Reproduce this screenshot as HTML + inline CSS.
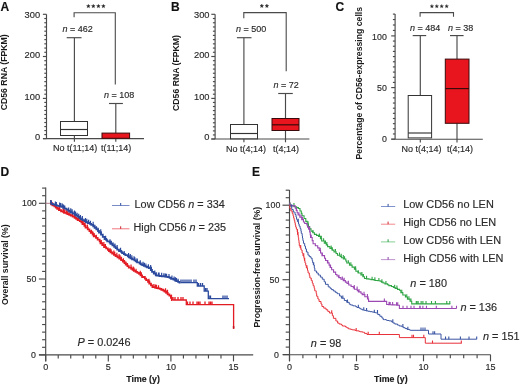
<!DOCTYPE html>
<html><head><meta charset="utf-8"><style>
html,body{margin:0;padding:0;background:#fff;width:520px;height:385px;overflow:hidden}
svg{display:block;will-change:transform}
text{font-family:"Liberation Sans",sans-serif}
</style></head><body>
<svg width="520" height="385" viewBox="0 0 520 385">
<rect width="520" height="385" fill="#fff"/>
<text x="0.50" y="11.00" font-size="12" text-anchor="start" font-weight="bold" fill="#111" stroke="#111" stroke-width="0.15" >A</text>
<text transform="translate(7.00,72.30) rotate(-90)" font-size="8.7" text-anchor="middle" font-weight="bold" fill="#1a1a1a">CD56 RNA (FPKM)</text>
<line x1="46.50" y1="14.30" x2="46.50" y2="138.60" stroke="#4a4a4a" stroke-width="1.15"/>
<line x1="42.90" y1="138.60" x2="46.50" y2="138.60" stroke="#4a4a4a" stroke-width="1.15"/>
<line x1="44.30" y1="134.58" x2="46.50" y2="134.58" stroke="#4a4a4a" stroke-width="1.15"/>
<line x1="44.30" y1="130.56" x2="46.50" y2="130.56" stroke="#4a4a4a" stroke-width="1.15"/>
<line x1="44.30" y1="126.54" x2="46.50" y2="126.54" stroke="#4a4a4a" stroke-width="1.15"/>
<line x1="44.30" y1="122.52" x2="46.50" y2="122.52" stroke="#4a4a4a" stroke-width="1.15"/>
<line x1="44.30" y1="118.50" x2="46.50" y2="118.50" stroke="#4a4a4a" stroke-width="1.15"/>
<line x1="44.30" y1="114.48" x2="46.50" y2="114.48" stroke="#4a4a4a" stroke-width="1.15"/>
<line x1="44.30" y1="110.46" x2="46.50" y2="110.46" stroke="#4a4a4a" stroke-width="1.15"/>
<line x1="44.30" y1="106.44" x2="46.50" y2="106.44" stroke="#4a4a4a" stroke-width="1.15"/>
<line x1="44.30" y1="102.42" x2="46.50" y2="102.42" stroke="#4a4a4a" stroke-width="1.15"/>
<line x1="42.90" y1="98.40" x2="46.50" y2="98.40" stroke="#4a4a4a" stroke-width="1.15"/>
<line x1="44.30" y1="94.21" x2="46.50" y2="94.21" stroke="#4a4a4a" stroke-width="1.15"/>
<line x1="44.30" y1="90.02" x2="46.50" y2="90.02" stroke="#4a4a4a" stroke-width="1.15"/>
<line x1="44.30" y1="85.83" x2="46.50" y2="85.83" stroke="#4a4a4a" stroke-width="1.15"/>
<line x1="44.30" y1="81.64" x2="46.50" y2="81.64" stroke="#4a4a4a" stroke-width="1.15"/>
<line x1="44.30" y1="77.45" x2="46.50" y2="77.45" stroke="#4a4a4a" stroke-width="1.15"/>
<line x1="44.30" y1="73.26" x2="46.50" y2="73.26" stroke="#4a4a4a" stroke-width="1.15"/>
<line x1="44.30" y1="69.07" x2="46.50" y2="69.07" stroke="#4a4a4a" stroke-width="1.15"/>
<line x1="44.30" y1="64.88" x2="46.50" y2="64.88" stroke="#4a4a4a" stroke-width="1.15"/>
<line x1="44.30" y1="60.69" x2="46.50" y2="60.69" stroke="#4a4a4a" stroke-width="1.15"/>
<line x1="42.90" y1="56.50" x2="46.50" y2="56.50" stroke="#4a4a4a" stroke-width="1.15"/>
<line x1="44.30" y1="52.28" x2="46.50" y2="52.28" stroke="#4a4a4a" stroke-width="1.15"/>
<line x1="44.30" y1="48.06" x2="46.50" y2="48.06" stroke="#4a4a4a" stroke-width="1.15"/>
<line x1="44.30" y1="43.84" x2="46.50" y2="43.84" stroke="#4a4a4a" stroke-width="1.15"/>
<line x1="44.30" y1="39.62" x2="46.50" y2="39.62" stroke="#4a4a4a" stroke-width="1.15"/>
<line x1="44.30" y1="35.40" x2="46.50" y2="35.40" stroke="#4a4a4a" stroke-width="1.15"/>
<line x1="44.30" y1="31.18" x2="46.50" y2="31.18" stroke="#4a4a4a" stroke-width="1.15"/>
<line x1="44.30" y1="26.96" x2="46.50" y2="26.96" stroke="#4a4a4a" stroke-width="1.15"/>
<line x1="44.30" y1="22.74" x2="46.50" y2="22.74" stroke="#4a4a4a" stroke-width="1.15"/>
<line x1="44.30" y1="18.52" x2="46.50" y2="18.52" stroke="#4a4a4a" stroke-width="1.15"/>
<line x1="42.90" y1="14.30" x2="46.50" y2="14.30" stroke="#4a4a4a" stroke-width="1.15"/>
<text x="40.10" y="140.20" font-size="9.3" text-anchor="end" font-weight="normal" fill="#2a2a2a" stroke="#2a2a2a" stroke-width="0.15" >0</text>
<text x="40.10" y="100.00" font-size="9.3" text-anchor="end" font-weight="normal" fill="#2a2a2a" stroke="#2a2a2a" stroke-width="0.15" >100</text>
<text x="40.10" y="57.50" font-size="9.3" text-anchor="end" font-weight="normal" fill="#2a2a2a" stroke="#2a2a2a" stroke-width="0.15" >200</text>
<text x="40.10" y="17.50" font-size="9.3" text-anchor="end" font-weight="normal" fill="#2a2a2a" stroke="#2a2a2a" stroke-width="0.15" >300</text>
<line x1="43.00" y1="138.60" x2="144.00" y2="138.60" stroke="#4a4a4a" stroke-width="1.15"/>
<line x1="74.40" y1="138.60" x2="74.40" y2="141.80" stroke="#4a4a4a" stroke-width="1.15"/>
<line x1="115.80" y1="138.60" x2="115.80" y2="141.80" stroke="#4a4a4a" stroke-width="1.15"/>
<line x1="74.40" y1="37.70" x2="74.40" y2="121.40" stroke="#4a4a4a" stroke-width="1.15"/>
<line x1="66.70" y1="37.70" x2="81.50" y2="37.70" stroke="#4a4a4a" stroke-width="1.15"/>
<rect x="60.50" y="121.50" width="27.00" height="14.00" fill="#fff" stroke="#333" stroke-width="1.0"/>
<line x1="74.40" y1="135.50" x2="74.40" y2="138.60" stroke="#4a4a4a" stroke-width="1.15"/>
<line x1="60.50" y1="129.50" x2="87.80" y2="129.50" stroke="#333" stroke-width="1.15"/>
<line x1="115.80" y1="103.50" x2="115.80" y2="133.10" stroke="#4a4a4a" stroke-width="1.15"/>
<line x1="109.00" y1="103.50" x2="122.90" y2="103.50" stroke="#4a4a4a" stroke-width="1.15"/>
<rect x="102.00" y="133.10" width="27.60" height="5.20" fill="#e8141e" stroke="#3a0a0a" stroke-width="1.0"/>
<polyline points="74.1,17.2 74.1,12.8 115.3,12.8 115.3,84.5" fill="none" stroke="#4a4a4a" stroke-width="1.1"/>
<polygon points="88.35,4.30 88.85,5.51 90.16,5.61 89.16,6.46 89.47,7.74 88.35,7.05 87.23,7.74 87.54,6.46 86.54,5.61 87.85,5.51" fill="#222" stroke="#222" stroke-width="0.35"/>
<polygon points="93.30,4.30 93.80,5.51 95.11,5.61 94.11,6.46 94.42,7.74 93.30,7.05 92.18,7.74 92.49,6.46 91.49,5.61 92.80,5.51" fill="#222" stroke="#222" stroke-width="0.35"/>
<polygon points="98.40,4.30 98.90,5.51 100.21,5.61 99.21,6.46 99.52,7.74 98.40,7.05 97.28,7.74 97.59,6.46 96.59,5.61 97.90,5.51" fill="#222" stroke="#222" stroke-width="0.35"/>
<polygon points="103.40,4.30 103.90,5.51 105.21,5.61 104.21,6.46 104.52,7.74 103.40,7.05 102.28,7.74 102.59,6.46 101.59,5.61 102.90,5.51" fill="#222" stroke="#222" stroke-width="0.35"/>
<text x="62.50" y="31.50" font-size="9" text-anchor="start" font-weight="normal" fill="#2a2a2a" stroke="#2a2a2a" stroke-width="0.15" ><tspan font-style="italic">n</tspan> = 462</text>
<text x="104.00" y="98.40" font-size="9" text-anchor="start" font-weight="normal" fill="#2a2a2a" stroke="#2a2a2a" stroke-width="0.15" ><tspan font-style="italic">n</tspan> = 108</text>
<text x="53.00" y="151.20" font-size="9" text-anchor="start" font-weight="normal" fill="#2a2a2a" stroke="#2a2a2a" stroke-width="0.15" >No t(11;14)</text>
<text x="101.00" y="151.20" font-size="9" text-anchor="start" font-weight="normal" fill="#2a2a2a" stroke="#2a2a2a" stroke-width="0.15" >t(11;14)</text>
<text x="171.00" y="11.00" font-size="12" text-anchor="start" font-weight="bold" fill="#111" stroke="#111" stroke-width="0.15" >B</text>
<text transform="translate(179.00,73.00) rotate(-90)" font-size="8.7" text-anchor="middle" font-weight="bold" fill="#1a1a1a">CD56 RNA (FPKM)</text>
<line x1="215.10" y1="14.30" x2="215.10" y2="139.00" stroke="#4a4a4a" stroke-width="1.15"/>
<line x1="211.30" y1="139.00" x2="215.10" y2="139.00" stroke="#4a4a4a" stroke-width="1.15"/>
<line x1="212.90" y1="134.94" x2="215.10" y2="134.94" stroke="#4a4a4a" stroke-width="1.15"/>
<line x1="212.90" y1="130.88" x2="215.10" y2="130.88" stroke="#4a4a4a" stroke-width="1.15"/>
<line x1="212.90" y1="126.82" x2="215.10" y2="126.82" stroke="#4a4a4a" stroke-width="1.15"/>
<line x1="212.90" y1="122.76" x2="215.10" y2="122.76" stroke="#4a4a4a" stroke-width="1.15"/>
<line x1="212.90" y1="118.70" x2="215.10" y2="118.70" stroke="#4a4a4a" stroke-width="1.15"/>
<line x1="212.90" y1="114.64" x2="215.10" y2="114.64" stroke="#4a4a4a" stroke-width="1.15"/>
<line x1="212.90" y1="110.58" x2="215.10" y2="110.58" stroke="#4a4a4a" stroke-width="1.15"/>
<line x1="212.90" y1="106.52" x2="215.10" y2="106.52" stroke="#4a4a4a" stroke-width="1.15"/>
<line x1="212.90" y1="102.46" x2="215.10" y2="102.46" stroke="#4a4a4a" stroke-width="1.15"/>
<line x1="211.30" y1="98.40" x2="215.10" y2="98.40" stroke="#4a4a4a" stroke-width="1.15"/>
<line x1="212.90" y1="94.21" x2="215.10" y2="94.21" stroke="#4a4a4a" stroke-width="1.15"/>
<line x1="212.90" y1="90.02" x2="215.10" y2="90.02" stroke="#4a4a4a" stroke-width="1.15"/>
<line x1="212.90" y1="85.83" x2="215.10" y2="85.83" stroke="#4a4a4a" stroke-width="1.15"/>
<line x1="212.90" y1="81.64" x2="215.10" y2="81.64" stroke="#4a4a4a" stroke-width="1.15"/>
<line x1="212.90" y1="77.45" x2="215.10" y2="77.45" stroke="#4a4a4a" stroke-width="1.15"/>
<line x1="212.90" y1="73.26" x2="215.10" y2="73.26" stroke="#4a4a4a" stroke-width="1.15"/>
<line x1="212.90" y1="69.07" x2="215.10" y2="69.07" stroke="#4a4a4a" stroke-width="1.15"/>
<line x1="212.90" y1="64.88" x2="215.10" y2="64.88" stroke="#4a4a4a" stroke-width="1.15"/>
<line x1="212.90" y1="60.69" x2="215.10" y2="60.69" stroke="#4a4a4a" stroke-width="1.15"/>
<line x1="211.30" y1="56.50" x2="215.10" y2="56.50" stroke="#4a4a4a" stroke-width="1.15"/>
<line x1="212.90" y1="52.28" x2="215.10" y2="52.28" stroke="#4a4a4a" stroke-width="1.15"/>
<line x1="212.90" y1="48.06" x2="215.10" y2="48.06" stroke="#4a4a4a" stroke-width="1.15"/>
<line x1="212.90" y1="43.84" x2="215.10" y2="43.84" stroke="#4a4a4a" stroke-width="1.15"/>
<line x1="212.90" y1="39.62" x2="215.10" y2="39.62" stroke="#4a4a4a" stroke-width="1.15"/>
<line x1="212.90" y1="35.40" x2="215.10" y2="35.40" stroke="#4a4a4a" stroke-width="1.15"/>
<line x1="212.90" y1="31.18" x2="215.10" y2="31.18" stroke="#4a4a4a" stroke-width="1.15"/>
<line x1="212.90" y1="26.96" x2="215.10" y2="26.96" stroke="#4a4a4a" stroke-width="1.15"/>
<line x1="212.90" y1="22.74" x2="215.10" y2="22.74" stroke="#4a4a4a" stroke-width="1.15"/>
<line x1="212.90" y1="18.52" x2="215.10" y2="18.52" stroke="#4a4a4a" stroke-width="1.15"/>
<line x1="211.30" y1="14.30" x2="215.10" y2="14.30" stroke="#4a4a4a" stroke-width="1.15"/>
<text x="209.50" y="140.30" font-size="9.3" text-anchor="end" font-weight="normal" fill="#2a2a2a" stroke="#2a2a2a" stroke-width="0.15" >0</text>
<text x="209.50" y="100.00" font-size="9.3" text-anchor="end" font-weight="normal" fill="#2a2a2a" stroke="#2a2a2a" stroke-width="0.15" >100</text>
<text x="209.50" y="57.50" font-size="9.3" text-anchor="end" font-weight="normal" fill="#2a2a2a" stroke="#2a2a2a" stroke-width="0.15" >200</text>
<text x="209.50" y="17.60" font-size="9.3" text-anchor="end" font-weight="normal" fill="#2a2a2a" stroke="#2a2a2a" stroke-width="0.15" >300</text>
<line x1="211.30" y1="139.00" x2="309.40" y2="139.00" stroke="#4a4a4a" stroke-width="1.15"/>
<line x1="243.90" y1="139.00" x2="243.90" y2="142.30" stroke="#4a4a4a" stroke-width="1.15"/>
<line x1="285.50" y1="139.00" x2="285.50" y2="142.30" stroke="#4a4a4a" stroke-width="1.15"/>
<line x1="243.90" y1="37.70" x2="243.90" y2="124.50" stroke="#4a4a4a" stroke-width="1.15"/>
<line x1="236.90" y1="37.70" x2="251.50" y2="37.70" stroke="#4a4a4a" stroke-width="1.15"/>
<rect x="230.50" y="124.50" width="27.00" height="14.30" fill="#fff" stroke="#333" stroke-width="1.0"/>
<line x1="230.50" y1="133.50" x2="257.50" y2="133.50" stroke="#333" stroke-width="1.15"/>
<line x1="285.50" y1="93.50" x2="285.50" y2="118.50" stroke="#4a4a4a" stroke-width="1.15"/>
<line x1="278.20" y1="93.50" x2="292.80" y2="93.50" stroke="#4a4a4a" stroke-width="1.15"/>
<line x1="285.50" y1="130.30" x2="285.50" y2="139.00" stroke="#4a4a4a" stroke-width="1.15"/>
<rect x="272.00" y="118.50" width="27.00" height="12.00" fill="#e8141e" stroke="#3a0a0a" stroke-width="1.0"/>
<line x1="272.00" y1="124.80" x2="299.00" y2="124.80" stroke="#3a0a0a" stroke-width="1.2"/>
<polyline points="243.8,18.2 243.8,12.6 286.2,12.6 286.2,71.2" fill="none" stroke="#4a4a4a" stroke-width="1.1"/>
<polygon points="261.80,4.10 262.30,5.31 263.61,5.41 262.61,6.26 262.92,7.54 261.80,6.86 260.68,7.54 260.99,6.26 259.99,5.41 261.30,5.31" fill="#222" stroke="#222" stroke-width="0.35"/>
<polygon points="266.90,4.10 267.40,5.31 268.71,5.41 267.71,6.26 268.02,7.54 266.90,6.86 265.78,7.54 266.09,6.26 265.09,5.41 266.40,5.31" fill="#222" stroke="#222" stroke-width="0.35"/>
<text x="236.00" y="31.80" font-size="9" text-anchor="start" font-weight="normal" fill="#2a2a2a" stroke="#2a2a2a" stroke-width="0.15" ><tspan font-style="italic">n</tspan> = 500</text>
<text x="273.40" y="88.00" font-size="9" text-anchor="start" font-weight="normal" fill="#2a2a2a" stroke="#2a2a2a" stroke-width="0.15" ><tspan font-style="italic">n</tspan> = 72</text>
<text x="226.00" y="152.00" font-size="9" text-anchor="start" font-weight="normal" fill="#2a2a2a" stroke="#2a2a2a" stroke-width="0.15" >No t(4;14)</text>
<text x="273.00" y="152.00" font-size="9" text-anchor="start" font-weight="normal" fill="#2a2a2a" stroke="#2a2a2a" stroke-width="0.15" >t(4;14)</text>
<text x="335.50" y="11.00" font-size="12" text-anchor="start" font-weight="bold" fill="#111" stroke="#111" stroke-width="0.15" >C</text>
<text transform="translate(362.00,83.20) rotate(-90)" font-size="8.7" text-anchor="middle" font-weight="bold" fill="#1a1a1a">Percentage of CD56-expressing cells</text>
<line x1="395.10" y1="14.10" x2="395.10" y2="139.10" stroke="#4a4a4a" stroke-width="1.15"/>
<line x1="391.20" y1="139.10" x2="395.10" y2="139.10" stroke="#4a4a4a" stroke-width="1.15"/>
<line x1="392.90" y1="133.95" x2="395.10" y2="133.95" stroke="#4a4a4a" stroke-width="1.15"/>
<line x1="392.90" y1="128.80" x2="395.10" y2="128.80" stroke="#4a4a4a" stroke-width="1.15"/>
<line x1="392.90" y1="123.65" x2="395.10" y2="123.65" stroke="#4a4a4a" stroke-width="1.15"/>
<line x1="392.90" y1="118.50" x2="395.10" y2="118.50" stroke="#4a4a4a" stroke-width="1.15"/>
<line x1="392.90" y1="113.35" x2="395.10" y2="113.35" stroke="#4a4a4a" stroke-width="1.15"/>
<line x1="392.90" y1="108.20" x2="395.10" y2="108.20" stroke="#4a4a4a" stroke-width="1.15"/>
<line x1="392.90" y1="103.05" x2="395.10" y2="103.05" stroke="#4a4a4a" stroke-width="1.15"/>
<line x1="392.90" y1="97.90" x2="395.10" y2="97.90" stroke="#4a4a4a" stroke-width="1.15"/>
<line x1="392.90" y1="92.75" x2="395.10" y2="92.75" stroke="#4a4a4a" stroke-width="1.15"/>
<line x1="391.20" y1="87.60" x2="395.10" y2="87.60" stroke="#4a4a4a" stroke-width="1.15"/>
<line x1="392.90" y1="82.43" x2="395.10" y2="82.43" stroke="#4a4a4a" stroke-width="1.15"/>
<line x1="392.90" y1="77.26" x2="395.10" y2="77.26" stroke="#4a4a4a" stroke-width="1.15"/>
<line x1="392.90" y1="72.09" x2="395.10" y2="72.09" stroke="#4a4a4a" stroke-width="1.15"/>
<line x1="392.90" y1="66.92" x2="395.10" y2="66.92" stroke="#4a4a4a" stroke-width="1.15"/>
<line x1="392.90" y1="61.75" x2="395.10" y2="61.75" stroke="#4a4a4a" stroke-width="1.15"/>
<line x1="392.90" y1="56.58" x2="395.10" y2="56.58" stroke="#4a4a4a" stroke-width="1.15"/>
<line x1="392.90" y1="51.41" x2="395.10" y2="51.41" stroke="#4a4a4a" stroke-width="1.15"/>
<line x1="392.90" y1="46.24" x2="395.10" y2="46.24" stroke="#4a4a4a" stroke-width="1.15"/>
<line x1="392.90" y1="41.07" x2="395.10" y2="41.07" stroke="#4a4a4a" stroke-width="1.15"/>
<line x1="391.20" y1="35.90" x2="395.10" y2="35.90" stroke="#4a4a4a" stroke-width="1.15"/>
<line x1="392.90" y1="30.45" x2="395.10" y2="30.45" stroke="#4a4a4a" stroke-width="1.15"/>
<line x1="392.90" y1="25.00" x2="395.10" y2="25.00" stroke="#4a4a4a" stroke-width="1.15"/>
<line x1="392.90" y1="19.55" x2="395.10" y2="19.55" stroke="#4a4a4a" stroke-width="1.15"/>
<line x1="392.90" y1="14.10" x2="395.10" y2="14.10" stroke="#4a4a4a" stroke-width="1.15"/>
<text x="386.80" y="142.30" font-size="8.8" text-anchor="end" font-weight="normal" fill="#2a2a2a" stroke="#2a2a2a" stroke-width="0.15" >0</text>
<text x="386.80" y="90.90" font-size="8.8" text-anchor="end" font-weight="normal" fill="#2a2a2a" stroke="#2a2a2a" stroke-width="0.15" >50</text>
<text x="386.80" y="39.50" font-size="8.8" text-anchor="end" font-weight="normal" fill="#2a2a2a" stroke="#2a2a2a" stroke-width="0.15" >100</text>
<line x1="391.30" y1="139.20" x2="482.80" y2="139.20" stroke="#4a4a4a" stroke-width="1.15"/>
<line x1="420.30" y1="139.20" x2="420.30" y2="142.50" stroke="#4a4a4a" stroke-width="1.15"/>
<line x1="457.00" y1="139.20" x2="457.00" y2="142.50" stroke="#4a4a4a" stroke-width="1.15"/>
<line x1="420.30" y1="35.60" x2="420.30" y2="95.50" stroke="#4a4a4a" stroke-width="1.15"/>
<line x1="412.70" y1="35.60" x2="426.20" y2="35.60" stroke="#4a4a4a" stroke-width="1.15"/>
<rect x="408.20" y="95.50" width="23.40" height="42.40" fill="#fff" stroke="#333" stroke-width="1.0"/>
<line x1="408.20" y1="133.00" x2="431.60" y2="133.00" stroke="#333" stroke-width="1.15"/>
<line x1="457.00" y1="35.60" x2="457.00" y2="59.10" stroke="#4a4a4a" stroke-width="1.15"/>
<line x1="450.00" y1="35.60" x2="463.60" y2="35.60" stroke="#4a4a4a" stroke-width="1.15"/>
<line x1="457.00" y1="123.30" x2="457.00" y2="139.20" stroke="#4a4a4a" stroke-width="1.15"/>
<rect x="445.30" y="59.10" width="23.70" height="64.20" fill="#e8141e" stroke="#3a0a0a" stroke-width="1.0"/>
<line x1="445.30" y1="88.60" x2="469.00" y2="88.60" stroke="#3a0a0a" stroke-width="1.15"/>
<polyline points="420.1,16.8 420.1,12.6 453.5,12.6 453.5,16.8" fill="none" stroke="#4a4a4a" stroke-width="1.1"/>
<polygon points="431.90,4.50 432.38,5.64 433.61,5.74 432.67,6.55 432.96,7.76 431.90,7.11 430.84,7.76 431.13,6.55 430.19,5.74 431.42,5.64" fill="#222" stroke="#222" stroke-width="0.35"/>
<polygon points="436.80,4.50 437.28,5.64 438.51,5.74 437.57,6.55 437.86,7.76 436.80,7.11 435.74,7.76 436.03,6.55 435.09,5.74 436.32,5.64" fill="#222" stroke="#222" stroke-width="0.35"/>
<polygon points="441.70,4.50 442.18,5.64 443.41,5.74 442.47,6.55 442.76,7.76 441.70,7.11 440.64,7.76 440.93,6.55 439.99,5.74 441.22,5.64" fill="#222" stroke="#222" stroke-width="0.35"/>
<polygon points="446.70,4.50 447.18,5.64 448.41,5.74 447.47,6.55 447.76,7.76 446.70,7.11 445.64,7.76 445.93,6.55 444.99,5.74 446.22,5.64" fill="#222" stroke="#222" stroke-width="0.35"/>
<text x="410.00" y="31.40" font-size="9" text-anchor="start" font-weight="normal" fill="#2a2a2a" stroke="#2a2a2a" stroke-width="0.15" ><tspan font-style="italic">n</tspan> = 484</text>
<text x="448.00" y="31.40" font-size="9" text-anchor="start" font-weight="normal" fill="#2a2a2a" stroke="#2a2a2a" stroke-width="0.15" ><tspan font-style="italic">n</tspan> = 38</text>
<text x="401.50" y="152.00" font-size="9" text-anchor="start" font-weight="normal" fill="#2a2a2a" stroke="#2a2a2a" stroke-width="0.15" >No t(4;14)</text>
<text x="447.00" y="152.00" font-size="9" text-anchor="start" font-weight="normal" fill="#2a2a2a" stroke="#2a2a2a" stroke-width="0.15" >t(4;14)</text>
<text x="0.50" y="176.00" font-size="12" text-anchor="start" font-weight="bold" fill="#111" stroke="#111" stroke-width="0.15" >D</text>
<text transform="translate(7.60,264.70) rotate(-90)" font-size="8.7" text-anchor="middle" font-weight="bold" fill="#1a1a1a">Overall survival (%)</text>
<line x1="45.70" y1="187.60" x2="45.70" y2="361.30" stroke="#4a4a4a" stroke-width="1.15"/>
<line x1="38.90" y1="354.90" x2="45.70" y2="354.90" stroke="#4a4a4a" stroke-width="1.15"/>
<line x1="42.10" y1="347.31" x2="45.70" y2="347.31" stroke="#4a4a4a" stroke-width="1.15"/>
<line x1="42.10" y1="339.72" x2="45.70" y2="339.72" stroke="#4a4a4a" stroke-width="1.15"/>
<line x1="42.10" y1="332.13" x2="45.70" y2="332.13" stroke="#4a4a4a" stroke-width="1.15"/>
<line x1="42.10" y1="324.54" x2="45.70" y2="324.54" stroke="#4a4a4a" stroke-width="1.15"/>
<line x1="42.10" y1="316.95" x2="45.70" y2="316.95" stroke="#4a4a4a" stroke-width="1.15"/>
<line x1="42.10" y1="309.36" x2="45.70" y2="309.36" stroke="#4a4a4a" stroke-width="1.15"/>
<line x1="42.10" y1="301.77" x2="45.70" y2="301.77" stroke="#4a4a4a" stroke-width="1.15"/>
<line x1="42.10" y1="294.18" x2="45.70" y2="294.18" stroke="#4a4a4a" stroke-width="1.15"/>
<line x1="42.10" y1="286.59" x2="45.70" y2="286.59" stroke="#4a4a4a" stroke-width="1.15"/>
<line x1="38.90" y1="279.00" x2="45.70" y2="279.00" stroke="#4a4a4a" stroke-width="1.15"/>
<line x1="42.10" y1="271.43" x2="45.70" y2="271.43" stroke="#4a4a4a" stroke-width="1.15"/>
<line x1="42.10" y1="263.86" x2="45.70" y2="263.86" stroke="#4a4a4a" stroke-width="1.15"/>
<line x1="42.10" y1="256.29" x2="45.70" y2="256.29" stroke="#4a4a4a" stroke-width="1.15"/>
<line x1="42.10" y1="248.72" x2="45.70" y2="248.72" stroke="#4a4a4a" stroke-width="1.15"/>
<line x1="42.10" y1="241.15" x2="45.70" y2="241.15" stroke="#4a4a4a" stroke-width="1.15"/>
<line x1="42.10" y1="233.58" x2="45.70" y2="233.58" stroke="#4a4a4a" stroke-width="1.15"/>
<line x1="42.10" y1="226.01" x2="45.70" y2="226.01" stroke="#4a4a4a" stroke-width="1.15"/>
<line x1="42.10" y1="218.44" x2="45.70" y2="218.44" stroke="#4a4a4a" stroke-width="1.15"/>
<line x1="42.10" y1="210.87" x2="45.70" y2="210.87" stroke="#4a4a4a" stroke-width="1.15"/>
<line x1="38.90" y1="203.30" x2="45.70" y2="203.30" stroke="#4a4a4a" stroke-width="1.15"/>
<line x1="42.10" y1="195.70" x2="45.70" y2="195.70" stroke="#4a4a4a" stroke-width="1.15"/>
<line x1="42.10" y1="188.10" x2="45.70" y2="188.10" stroke="#4a4a4a" stroke-width="1.15"/>
<text x="36.00" y="358.10" font-size="8.8" text-anchor="end" font-weight="normal" fill="#2a2a2a" stroke="#2a2a2a" stroke-width="0.15" >0</text>
<text x="36.30" y="282.00" font-size="8.8" text-anchor="end" font-weight="normal" fill="#2a2a2a" stroke="#2a2a2a" stroke-width="0.15" >50</text>
<text x="36.70" y="206.30" font-size="8.8" text-anchor="end" font-weight="normal" fill="#2a2a2a" stroke="#2a2a2a" stroke-width="0.15" >100</text>
<line x1="39.00" y1="354.90" x2="253.20" y2="354.90" stroke="#4a4a4a" stroke-width="1.15"/>
<line x1="45.70" y1="354.90" x2="45.70" y2="361.40" stroke="#4a4a4a" stroke-width="1.15"/>
<line x1="58.22" y1="354.90" x2="58.22" y2="358.50" stroke="#4a4a4a" stroke-width="1.15"/>
<line x1="70.74" y1="354.90" x2="70.74" y2="358.50" stroke="#4a4a4a" stroke-width="1.15"/>
<line x1="83.26" y1="354.90" x2="83.26" y2="358.50" stroke="#4a4a4a" stroke-width="1.15"/>
<line x1="95.78" y1="354.90" x2="95.78" y2="358.50" stroke="#4a4a4a" stroke-width="1.15"/>
<line x1="108.30" y1="354.90" x2="108.30" y2="361.40" stroke="#4a4a4a" stroke-width="1.15"/>
<line x1="120.82" y1="354.90" x2="120.82" y2="358.50" stroke="#4a4a4a" stroke-width="1.15"/>
<line x1="133.34" y1="354.90" x2="133.34" y2="358.50" stroke="#4a4a4a" stroke-width="1.15"/>
<line x1="145.86" y1="354.90" x2="145.86" y2="358.50" stroke="#4a4a4a" stroke-width="1.15"/>
<line x1="158.38" y1="354.90" x2="158.38" y2="358.50" stroke="#4a4a4a" stroke-width="1.15"/>
<line x1="170.90" y1="354.90" x2="170.90" y2="361.40" stroke="#4a4a4a" stroke-width="1.15"/>
<line x1="183.42" y1="354.90" x2="183.42" y2="358.50" stroke="#4a4a4a" stroke-width="1.15"/>
<line x1="195.94" y1="354.90" x2="195.94" y2="358.50" stroke="#4a4a4a" stroke-width="1.15"/>
<line x1="208.46" y1="354.90" x2="208.46" y2="358.50" stroke="#4a4a4a" stroke-width="1.15"/>
<line x1="220.98" y1="354.90" x2="220.98" y2="358.50" stroke="#4a4a4a" stroke-width="1.15"/>
<line x1="233.50" y1="354.90" x2="233.50" y2="361.40" stroke="#4a4a4a" stroke-width="1.15"/>
<text x="45.70" y="370.20" font-size="9.0" text-anchor="middle" font-weight="normal" fill="#2a2a2a" stroke="#2a2a2a" stroke-width="0.15" >0</text>
<text x="108.30" y="370.20" font-size="9.0" text-anchor="middle" font-weight="normal" fill="#2a2a2a" stroke="#2a2a2a" stroke-width="0.15" >5</text>
<text x="170.90" y="370.20" font-size="9.0" text-anchor="middle" font-weight="normal" fill="#2a2a2a" stroke="#2a2a2a" stroke-width="0.15" >10</text>
<text x="233.50" y="370.20" font-size="9.0" text-anchor="middle" font-weight="normal" fill="#2a2a2a" stroke="#2a2a2a" stroke-width="0.15" >15</text>
<text x="143.10" y="382.30" font-size="8.8" text-anchor="middle" font-weight="bold" fill="#1a1a1a" stroke="#1a1a1a" stroke-width="0.15" >Time (y)</text>
<text x="77.50" y="345.60" font-size="10.9" text-anchor="start" font-weight="normal" fill="#2a2a2a" stroke="#2a2a2a" stroke-width="0.15" ><tspan font-style="italic">P</tspan> = 0.0246</text>
<line x1="112.00" y1="205.50" x2="129.50" y2="205.50" stroke="#6a7fc0" stroke-width="0.9"/>
<line x1="120.70" y1="203.00" x2="120.70" y2="205.50" stroke="#2b4a9e" stroke-width="1.0"/>
<text x="134.60" y="208.40" font-size="10.85" text-anchor="start" font-weight="normal" fill="#2a2a2a" stroke="#2a2a2a" stroke-width="0.15" >Low CD56 <tspan font-style="italic">n</tspan> = 334</text>
<line x1="112.00" y1="228.80" x2="129.50" y2="228.80" stroke="#ee6a70" stroke-width="0.9"/>
<line x1="120.70" y1="226.30" x2="120.70" y2="228.80" stroke="#c8202a" stroke-width="1.0"/>
<text x="133.50" y="230.90" font-size="10.85" text-anchor="start" font-weight="normal" fill="#2a2a2a" stroke="#2a2a2a" stroke-width="0.15" >High CD56 <tspan font-style="italic">n</tspan> = 235</text>
<text x="252.00" y="176.00" font-size="12" text-anchor="start" font-weight="bold" fill="#111" stroke="#111" stroke-width="0.15" >E</text>
<text transform="translate(260.00,267.20) rotate(-90)" font-size="8.7" text-anchor="middle" font-weight="bold" fill="#1a1a1a">Progression-free survival (%)</text>
<line x1="289.50" y1="190.00" x2="289.50" y2="361.30" stroke="#4a4a4a" stroke-width="1.15"/>
<line x1="282.50" y1="354.60" x2="289.50" y2="354.60" stroke="#4a4a4a" stroke-width="1.15"/>
<line x1="285.70" y1="347.11" x2="289.50" y2="347.11" stroke="#4a4a4a" stroke-width="1.15"/>
<line x1="285.70" y1="339.62" x2="289.50" y2="339.62" stroke="#4a4a4a" stroke-width="1.15"/>
<line x1="285.70" y1="332.13" x2="289.50" y2="332.13" stroke="#4a4a4a" stroke-width="1.15"/>
<line x1="285.70" y1="324.64" x2="289.50" y2="324.64" stroke="#4a4a4a" stroke-width="1.15"/>
<line x1="285.70" y1="317.15" x2="289.50" y2="317.15" stroke="#4a4a4a" stroke-width="1.15"/>
<line x1="285.70" y1="309.66" x2="289.50" y2="309.66" stroke="#4a4a4a" stroke-width="1.15"/>
<line x1="285.70" y1="302.17" x2="289.50" y2="302.17" stroke="#4a4a4a" stroke-width="1.15"/>
<line x1="285.70" y1="294.68" x2="289.50" y2="294.68" stroke="#4a4a4a" stroke-width="1.15"/>
<line x1="285.70" y1="287.19" x2="289.50" y2="287.19" stroke="#4a4a4a" stroke-width="1.15"/>
<line x1="282.50" y1="279.70" x2="289.50" y2="279.70" stroke="#4a4a4a" stroke-width="1.15"/>
<line x1="285.70" y1="272.25" x2="289.50" y2="272.25" stroke="#4a4a4a" stroke-width="1.15"/>
<line x1="285.70" y1="264.80" x2="289.50" y2="264.80" stroke="#4a4a4a" stroke-width="1.15"/>
<line x1="285.70" y1="257.35" x2="289.50" y2="257.35" stroke="#4a4a4a" stroke-width="1.15"/>
<line x1="285.70" y1="249.90" x2="289.50" y2="249.90" stroke="#4a4a4a" stroke-width="1.15"/>
<line x1="285.70" y1="242.45" x2="289.50" y2="242.45" stroke="#4a4a4a" stroke-width="1.15"/>
<line x1="285.70" y1="235.00" x2="289.50" y2="235.00" stroke="#4a4a4a" stroke-width="1.15"/>
<line x1="285.70" y1="227.55" x2="289.50" y2="227.55" stroke="#4a4a4a" stroke-width="1.15"/>
<line x1="285.70" y1="220.10" x2="289.50" y2="220.10" stroke="#4a4a4a" stroke-width="1.15"/>
<line x1="285.70" y1="212.65" x2="289.50" y2="212.65" stroke="#4a4a4a" stroke-width="1.15"/>
<line x1="282.50" y1="205.20" x2="289.50" y2="205.20" stroke="#4a4a4a" stroke-width="1.15"/>
<line x1="285.70" y1="197.70" x2="289.50" y2="197.70" stroke="#4a4a4a" stroke-width="1.15"/>
<line x1="285.70" y1="190.20" x2="289.50" y2="190.20" stroke="#4a4a4a" stroke-width="1.15"/>
<text x="278.80" y="357.80" font-size="8.8" text-anchor="end" font-weight="normal" fill="#2a2a2a" stroke="#2a2a2a" stroke-width="0.15" >0</text>
<text x="279.30" y="283.30" font-size="8.8" text-anchor="end" font-weight="normal" fill="#2a2a2a" stroke="#2a2a2a" stroke-width="0.15" >50</text>
<text x="280.30" y="207.60" font-size="8.8" text-anchor="end" font-weight="normal" fill="#2a2a2a" stroke="#2a2a2a" stroke-width="0.15" >100</text>
<line x1="283.00" y1="354.70" x2="490.60" y2="354.70" stroke="#4a4a4a" stroke-width="1.15"/>
<line x1="289.50" y1="354.70" x2="289.50" y2="361.30" stroke="#4a4a4a" stroke-width="1.15"/>
<line x1="302.90" y1="354.70" x2="302.90" y2="358.20" stroke="#4a4a4a" stroke-width="1.15"/>
<line x1="316.30" y1="354.70" x2="316.30" y2="358.20" stroke="#4a4a4a" stroke-width="1.15"/>
<line x1="329.70" y1="354.70" x2="329.70" y2="358.20" stroke="#4a4a4a" stroke-width="1.15"/>
<line x1="343.10" y1="354.70" x2="343.10" y2="358.20" stroke="#4a4a4a" stroke-width="1.15"/>
<line x1="356.50" y1="354.70" x2="356.50" y2="361.30" stroke="#4a4a4a" stroke-width="1.15"/>
<line x1="369.90" y1="354.70" x2="369.90" y2="358.20" stroke="#4a4a4a" stroke-width="1.15"/>
<line x1="383.30" y1="354.70" x2="383.30" y2="358.20" stroke="#4a4a4a" stroke-width="1.15"/>
<line x1="396.70" y1="354.70" x2="396.70" y2="358.20" stroke="#4a4a4a" stroke-width="1.15"/>
<line x1="410.10" y1="354.70" x2="410.10" y2="358.20" stroke="#4a4a4a" stroke-width="1.15"/>
<line x1="423.50" y1="354.70" x2="423.50" y2="361.30" stroke="#4a4a4a" stroke-width="1.15"/>
<line x1="436.90" y1="354.70" x2="436.90" y2="358.20" stroke="#4a4a4a" stroke-width="1.15"/>
<line x1="450.30" y1="354.70" x2="450.30" y2="358.20" stroke="#4a4a4a" stroke-width="1.15"/>
<line x1="463.70" y1="354.70" x2="463.70" y2="358.20" stroke="#4a4a4a" stroke-width="1.15"/>
<line x1="477.10" y1="354.70" x2="477.10" y2="358.20" stroke="#4a4a4a" stroke-width="1.15"/>
<line x1="490.50" y1="354.70" x2="490.50" y2="361.30" stroke="#4a4a4a" stroke-width="1.15"/>
<text x="289.50" y="370.20" font-size="9.0" text-anchor="middle" font-weight="normal" fill="#2a2a2a" stroke="#2a2a2a" stroke-width="0.15" >0</text>
<text x="356.50" y="370.20" font-size="9.0" text-anchor="middle" font-weight="normal" fill="#2a2a2a" stroke="#2a2a2a" stroke-width="0.15" >5</text>
<text x="423.50" y="370.20" font-size="9.0" text-anchor="middle" font-weight="normal" fill="#2a2a2a" stroke="#2a2a2a" stroke-width="0.15" >10</text>
<text x="490.50" y="370.20" font-size="9.0" text-anchor="middle" font-weight="normal" fill="#2a2a2a" stroke="#2a2a2a" stroke-width="0.15" >15</text>
<text x="390.80" y="382.30" font-size="8.8" text-anchor="middle" font-weight="bold" fill="#1a1a1a" stroke="#1a1a1a" stroke-width="0.15" >Time (y)</text>
<line x1="381.00" y1="206.50" x2="395.20" y2="206.50" stroke="#7088c8" stroke-width="0.9"/>
<line x1="388.10" y1="203.90" x2="388.10" y2="206.50" stroke="#34509e" stroke-width="1.0"/>
<text x="403.20" y="208.40" font-size="10.95" text-anchor="start" font-weight="normal" fill="#2a2a2a" stroke="#2a2a2a" stroke-width="0.15" >Low CD56 no LEN</text>
<line x1="381.00" y1="224.20" x2="395.20" y2="224.20" stroke="#f07a80" stroke-width="0.9"/>
<line x1="388.10" y1="221.60" x2="388.10" y2="224.20" stroke="#d02a30" stroke-width="1.0"/>
<text x="403.20" y="226.10" font-size="10.95" text-anchor="start" font-weight="normal" fill="#2a2a2a" stroke="#2a2a2a" stroke-width="0.15" >High CD56 no LEN</text>
<line x1="381.00" y1="241.90" x2="395.20" y2="241.90" stroke="#78c888" stroke-width="0.9"/>
<line x1="388.10" y1="239.30" x2="388.10" y2="241.90" stroke="#2a9a40" stroke-width="1.0"/>
<text x="403.20" y="243.80" font-size="10.95" text-anchor="start" font-weight="normal" fill="#2a2a2a" stroke="#2a2a2a" stroke-width="0.15" >Low CD56 with LEN</text>
<line x1="381.00" y1="259.60" x2="395.20" y2="259.60" stroke="#b888cc" stroke-width="0.9"/>
<line x1="388.10" y1="257.00" x2="388.10" y2="259.60" stroke="#8a40a8" stroke-width="1.0"/>
<text x="403.20" y="261.50" font-size="10.95" text-anchor="start" font-weight="normal" fill="#2a2a2a" stroke="#2a2a2a" stroke-width="0.15" >High CD56 with LEN</text>
<text x="410.30" y="287.40" font-size="10.9" text-anchor="start" font-weight="normal" fill="#2a2a2a" stroke="#2a2a2a" stroke-width="0.15" ><tspan font-style="italic">n</tspan> = 180</text>
<text x="460.40" y="310.50" font-size="10.9" text-anchor="start" font-weight="normal" fill="#2a2a2a" stroke="#2a2a2a" stroke-width="0.15" ><tspan font-style="italic">n</tspan> = 136</text>
<text x="483.00" y="339.80" font-size="10.9" text-anchor="start" font-weight="normal" fill="#2a2a2a" stroke="#2a2a2a" stroke-width="0.15" ><tspan font-style="italic">n</tspan> = 151</text>
<text x="310.80" y="347.00" font-size="10.9" text-anchor="start" font-weight="normal" fill="#2a2a2a" stroke="#2a2a2a" stroke-width="0.15" ><tspan font-style="italic">n</tspan> = 98</text>
<line x1="45.7" y1="203.3" x2="51" y2="203.3" stroke="#b07888" stroke-width="1"/>
<path d="M50.60,203.30H51.18V204.33H52.49V205.37H54.40V206.40H55.00H55.81V207.65H57.17V208.90H58.95V210.15H61.05V211.40H62.00H63.31V212.10H64.05V212.80H66.53V213.50H67.62V214.20H69.14V214.90H70.78V215.60H72.00H72.65V216.72H74.59V217.83H76.12V218.95H77.63V220.07H79.79V221.18H81.37V222.30H82.00H82.47V224.08H84.39V225.86H85.56V227.64H87.76V229.42H89.45V231.20H90.00H90.81V232.88H92.66V234.57H93.73V236.25H96.03V237.93H97.65V239.62H99.66V241.30H100.00H100.46V243.23H102.25V245.17H104.06V247.10H105.00H106.15V248.47H107.86V249.83H108.95V251.20H110.00H110.48V252.42H112.18V253.63H113.90V254.85H115.57V256.07H117.48V257.28H119.26V258.50H120.00H121.11V260.03H122.87V261.57H124.46V263.10H125.73V264.63H127.40V266.17H128.77V267.70H130.00H131.21V268.73H132.61V269.77H133.82V270.80H135.59V271.83H137.35V272.87H139.03V273.90H140.00H140.52V275.45H142.12V277.00H144.85V278.55H146.15V280.10H147.00H148.02V281.88H149.24V283.65H150.99V285.43H152.45V287.20H153.60H154.92V287.62H156.47V288.05H158.10V288.47H159.78V288.90H160.30H161.35V289.77H163.32V290.63H164.50V291.50H165.40H166.11V292.90H167.66V294.30H169.37V295.70H170.50H170.91V297.85H171.85V300.00H172.20" fill="none" stroke="#e31b23" stroke-width="1.8" stroke-linejoin="miter"/><path d="M50.91,203.30v-3.20M51.25,204.33v-3.20M52.56,205.37v-3.20M56.11,207.65v-3.20M58.85,208.90v-3.20M59.78,210.15v-3.20M63.07,211.40v-3.20M63.74,212.10v-3.20M64.97,212.80v-3.20M66.59,213.50v-3.20M67.94,214.20v-3.20M69.85,214.90v-3.20M72.37,215.60v-3.20M74.34,216.72v-3.20M75.03,217.83v-3.20M78.54,220.07v-3.20M82.41,222.30v-3.20M83.80,224.08v-3.20M85.07,225.86v-3.20M87.41,227.64v-3.20M91.52,232.88v-3.20M92.69,234.57v-3.20M94.12,236.25v-3.20M96.13,237.93v-3.20M101.26,243.23v-3.20M103.85,245.17v-3.20M105.41,247.10v-3.20M110.00,251.20v-3.20M111.11,252.42v-3.20M113.82,253.63v-3.20M114.76,254.85v-3.20M116.86,256.07v-3.20M119.08,257.28v-3.20M120.07,258.50v-3.20M121.48,260.03v-3.20M123.42,261.57v-3.20M124.46,263.10v-3.20M125.90,264.63v-3.20M127.43,266.17v-3.20M131.03,267.70v-3.20M133.20,269.77v-3.20M134.00,270.80v-3.20M136.05,271.83v-3.20M140.28,273.90v-3.20M141.37,275.45v-3.20M148.97,281.88v-3.20M149.63,283.65v-3.20M153.90,287.20v-3.20M155.47,287.62v-3.20M156.51,288.05v-3.20M158.53,288.47v-3.20M165.55,291.50v-3.20M167.51,292.90v-3.20M171.53,297.85v-3.20" fill="none" stroke="#e31b23" stroke-width="1.2"/>
<path d="M172.20,300.00H186.30V304.60H233.60V328.70" fill="none" stroke="#e31b23" stroke-width="1.3" stroke-linejoin="miter"/><path d="M173.00,300.00v-3.00M175.00,300.00v-3.00M178.00,300.00v-3.00M181.00,300.00v-3.00M183.00,300.00v-3.00M187.50,304.60v-3.00M190.00,304.60v-3.00M193.00,304.60v-3.00M197.00,304.60v-3.00M198.50,304.60v-3.00M200.00,304.60v-3.00M205.00,304.60v-3.00M209.00,304.60v-3.00M210.50,304.60v-3.00M212.00,304.60v-3.00" fill="none" stroke="#e31b23" stroke-width="1.3"/>
<path d="M233.6,328.7v-2.6" stroke="#c01820" stroke-width="1.6"/>
<path d="M50.60,203.30H51.24V203.80H52.71V204.30H54.66V204.80H55.00H56.20V205.30H57.25V205.80H59.72V206.30H61.63V206.80H62.00H63.27V207.75H64.43V208.70H66.54V209.65H68.16V210.60H69.21V211.55H70.92V212.50H72.00H72.75V213.62H74.92V214.73H76.17V215.85H77.87V216.97H79.52V218.08H80.69V219.20H82.00H82.44V220.15H84.56V221.10H85.92V222.05H87.61V223.00H89.77V223.95H91.17V224.90H92.00H93.22V226.42H94.59V227.94H96.36V229.46H98.02V230.98H98.97V232.50H100.00H101.00V234.67H102.78V236.83H104.56V239.00H105.00H106.30V240.17H107.22V241.33H109.62V242.50H110.00H110.49V243.92H112.43V245.33H114.18V246.75H115.67V248.17H117.20V249.58H118.99V251.00H120.00H121.31V252.05H122.10V253.10H123.93V254.15H125.37V255.20H127.78V256.25H128.94V257.30H130.00H130.42V258.33H132.06V259.37H134.35V260.40H135.76V261.43H137.07V262.47H139.61V263.50H140.00H140.86V264.28H142.24V265.07H143.78V265.85H145.49V266.63H147.05V267.42H148.87V268.20H150.00H150.81V270.00H152.00V271.80H153.79V273.60H155.74V275.40H156.10H157.07V275.61H158.94V275.82H159.92V276.04H161.97V276.25H163.44V276.46H164.96V276.68H166.33V276.89H167.86V277.10H168.80H169.58V277.95H171.07V278.80H173.45V279.65H175.14V280.50H175.50H176.32V281.20H178.05V281.90H179.44V282.60H180.60" fill="none" stroke="#2b4a9e" stroke-width="1.8" stroke-linejoin="miter"/><path d="M50.71,203.30v-3.20M51.46,203.80v-3.20M55.42,204.80v-3.20M56.34,205.30v-3.20M59.65,205.80v-3.20M60.72,206.30v-3.20M62.30,206.80v-3.20M63.57,207.75v-3.20M64.71,208.70v-3.20M68.64,210.60v-3.20M70.76,211.55v-3.20M72.14,212.50v-3.20M74.48,213.62v-3.20M75.51,214.73v-3.20M77.11,215.85v-3.20M78.72,216.97v-3.20M80.43,218.08v-3.20M82.33,219.20v-3.20M85.39,221.10v-3.20M86.78,222.05v-3.20M88.59,223.00v-3.20M90.44,223.95v-3.20M93.15,224.90v-3.20M94.81,227.94v-3.20M96.48,229.46v-3.20M98.09,230.98v-3.20M100.72,232.50v-3.20M101.26,234.67v-3.20M105.63,239.00v-3.20M110.01,242.50v-3.20M111.35,243.92v-3.20M113.01,245.33v-3.20M114.95,246.75v-3.20M117.17,248.17v-3.20M120.55,251.00v-3.20M124.15,254.15v-3.20M128.59,256.25v-3.20M130.34,257.30v-3.20M131.82,258.33v-3.20M134.04,259.37v-3.20M134.83,260.40v-3.20M136.98,261.43v-3.20M137.40,262.47v-3.20M140.26,263.50v-3.20M143.01,265.07v-3.20M144.37,265.85v-3.20M145.88,266.63v-3.20M148.38,267.42v-3.20M150.66,268.20v-3.20M151.40,270.00v-3.20M154.78,273.60v-3.20M156.23,275.40v-3.20M158.46,275.61v-3.20M159.10,275.82v-3.20M161.65,276.04v-3.20M163.87,276.46v-3.20M165.36,276.68v-3.20M166.57,276.89v-3.20M168.99,277.10v-3.20M171.92,278.80v-3.20M174.09,279.65v-3.20M175.50,280.50v-3.20M176.48,281.20v-3.20M178.11,281.90v-3.20" fill="none" stroke="#2b4a9e" stroke-width="1.2"/>
<path d="M180.60,282.60H197.30V286.00H204.20V291.10H208.30V298.60H229.00" fill="none" stroke="#2b4a9e" stroke-width="1.3" stroke-linejoin="miter"/><path d="M181.00,282.60v-3.00M183.00,282.60v-3.00M185.00,282.60v-3.00M187.00,282.60v-3.00M189.00,282.60v-3.00M191.00,282.60v-3.00M194.00,282.60v-3.00M196.00,282.60v-3.00M198.50,286.00v-3.00M200.50,286.00v-3.00M202.50,286.00v-3.00M205.50,291.10v-3.00M207.00,291.10v-3.00M209.00,298.60v-3.00M210.50,298.60v-3.00M223.00,298.60v-3.00M225.00,298.60v-3.00M227.00,298.60v-3.00" fill="none" stroke="#2b4a9e" stroke-width="1.3"/>
<path d="M289.70,205.20H290.90V205.55H292.98V205.90H293.50H294.05V206.77H296.61V207.63H298.41V208.50H299.20H299.99V210.93H301.28V213.37H302.02V215.80H302.90H304.06V218.57H305.78V221.33H307.24V224.10H308.00H308.45V226.47H309.62V228.83H311.04V231.20H312.00H312.89V232.80H314.44V234.40H315.10H316.53V235.40H318.56V236.40H319.30H320.43V238.67H321.66V240.93H324.32V243.20H325.00H326.26V244.90H326.60H327.61V246.63H329.93V248.37H332.10V250.10H333.98V251.83H336.08V253.57H337.44V255.30H339.00H340.05V256.53H341.38V257.77H343.35V259.00H344.20H345.83V261.03H346.78V263.07H349.48V265.10H352.08V267.13H354.40V269.17H355.87V271.20H357.00H358.14V273.02H360.90V274.85H362.90V276.68H364.51V278.50H366.00H366.60V278.89H368.97V279.27H371.05V279.66H373.83V280.04H374.88V280.43H377.95V280.81H380.17V281.20H380.80H381.47V282.08H383.06V282.96H384.96V283.84H387.61V284.72H388.84V285.60H390.00H391.46V286.54H393.37V287.48H395.16V288.42H397.50V289.36H399.53V290.30H400.00H400.85V292.65H402.83V295.00H404.60H405.44V297.07H407.45V299.13H410.06V301.20H410.80H411.72V303.90H412.90H450.30" fill="none" stroke="#2fa545" stroke-width="1.1" stroke-linejoin="miter"/><path d="M290.09,205.20v-2.80M293.96,205.90v-2.80M308.05,224.10v-2.80M312.90,232.80v-2.80M319.38,236.40v-2.80M321.32,238.67v-2.80M323.63,240.93v-2.80M325.48,243.20v-2.80M326.86,244.90v-2.80M331.16,248.37v-2.80M332.21,250.10v-2.80M335.39,251.83v-2.80M339.49,255.30v-2.80M341.24,256.53v-2.80M343.31,257.77v-2.80M344.54,259.00v-2.80M348.35,263.07v-2.80M350.84,265.10v-2.80M355.60,269.17v-2.80M358.21,273.02v-2.80M361.88,274.85v-2.80M363.39,276.68v-2.80M366.56,278.50v-2.80M372.09,279.66v-2.80M374.88,280.04v-2.80M378.90,280.81v-2.80M381.89,282.08v-2.80M385.95,283.84v-2.80M394.68,287.48v-2.80M396.92,288.42v-2.80M401.79,292.65v-2.80M406.76,297.07v-2.80M408.91,299.13v-2.80M410.95,301.20v-2.80M446.78,303.90v-2.80M421.13,303.90v-2.80M418.12,303.90v-2.80M416.29,303.90v-2.80" fill="none" stroke="#2fa545" stroke-width="1.1"/>
<path d="M289.70,205.20H290.67V205.55H292.71V205.90H294.50H295.28V208.17H296.26V210.43H297.11V212.70H297.70H298.07V215.00H299.82V217.30H300.80H301.70V219.65H303.46V222.00H303.90H304.69V223.50H306.91V225.00H307.30H307.52V227.10H308.58V229.20H309.40H309.66V231.97H310.23V234.73H310.57V237.50H311.00H312.21V240.60H313.09V243.70H314.10H315.35V245.80H317.72V247.90H318.20H319.25V250.45H320.56V253.00H321.40H322.01V255.60H324.55V258.20H325.00H325.55V260.52H327.47V262.84H329.09V265.16H330.10V267.48H331.62V269.80H332.80H333.56V272.15H335.64V274.50H336.00H337.02V276.07H338.82V277.63H340.93V279.20H342.30H343.26V280.65H345.38V282.10H347.00V283.55H348.73V285.00H351.12V286.45H353.33V287.90H353.80H354.43V289.24H357.26V290.58H358.43V291.92H360.96V293.26H362.22V294.60H363.50H364.85V296.80H367.48V299.00H368.00H368.57V301.40H370.00H386.00H386.64V304.50H387.00H388.57V304.63H389.89V304.77H391.78V304.90H394.77V305.03H396.61V305.17H397.79V305.30H399.40V308.50H456.50" fill="none" stroke="#9b48b3" stroke-width="1.1" stroke-linejoin="miter"/><path d="M289.95,205.20v-2.80M296.55,210.43v-2.80M298.95,215.00v-2.80M301.04,217.30v-2.80M302.40,219.65v-2.80M309.64,229.20v-2.80M311.19,237.50v-2.80M320.27,250.45v-2.80M322.34,255.60v-2.80M327.83,262.84v-2.80M330.56,267.48v-2.80M338.86,277.63v-2.80M342.33,279.20v-2.80M344.15,280.65v-2.80M348.38,283.55v-2.80M354.28,287.90v-2.80M357.12,289.24v-2.80M359.00,291.92v-2.80M364.03,294.60v-2.80M367.41,296.80v-2.80M368.03,299.00v-2.80M384.37,301.40v-2.80M389.06,304.63v-2.80M390.21,304.77v-2.80M392.62,304.90v-2.80M396.52,305.03v-2.80M397.74,305.17v-2.80M419.76,308.50v-2.80M426.43,308.50v-2.80M451.90,308.50v-2.80M420.20,308.50v-2.80M422.86,308.50v-2.80" fill="none" stroke="#9b48b3" stroke-width="1.1"/>
<path d="M289.70,205.20H290.87V207.00H291.40H291.75V209.55H293.29V212.10H294.50H295.06V214.53H296.01V216.97H296.58V219.40H297.10H297.41V221.67H298.51V223.93H299.17V226.20H299.70H300.11V228.60H300.94V231.00H301.25V233.40H301.80H302.16V235.80H302.47V238.20H302.90V240.60H303.20H303.47V243.37H304.66V246.13H305.49V248.90H305.80H306.41V252.00H307.96V255.10H308.90H309.28V256.65H310.94V258.20H312.00H312.13V260.47H312.65V262.73H313.35V265.00H313.60H314.31V268.00H314.82V271.00H315.40H316.62V273.00H318.26V275.00H319.30H320.36V277.10H322.27V279.20H323.00H324.16V281.77H325.46V284.33H328.23V286.90H328.80H330.05V288.26H331.36V289.62H333.36V290.98H335.29V292.34H337.13V293.70H338.50H339.59V295.97H341.40V298.23H344.32V300.50H345.00H346.73V302.35H349.26V304.20H350.00H350.58V305.00H352.82V305.80H354.30H355.69V306.64H356.92V307.48H359.30V308.32H360.68V309.16H362.31V310.00H363.50H364.31V310.41H365.96V310.83H367.95V311.24H369.92V311.66H372.23V312.07H374.20V312.49H375.60V312.90H376.90H377.74V314.57H379.85V316.25H381.87V317.93H383.17V319.60H384.60H385.99V320.03H387.10V320.47H389.17V320.90H390.00H391.66V321.95H392.94V323.00H394.81V324.05H397.55V325.10H398.30H399.22V325.97H401.90V326.83H403.46V327.70H405.17V328.57H407.07V329.43H409.82V330.30H410.80H428.50V334.00H441.00V339.20H476.70" fill="none" stroke="#3a55a3" stroke-width="1.0" stroke-linejoin="miter"/><path d="M291.72,207.00v-2.80M298.24,221.67v-2.80M313.67,265.00v-2.80M342.79,298.23v-2.80M347.47,302.35v-2.80M358.34,307.48v-2.80M363.76,310.00v-2.80M366.58,310.83v-2.80M374.34,312.49v-2.80M377.49,312.90v-2.80M392.82,321.95v-2.80M402.87,326.83v-2.80M407.85,329.43v-2.80M434.63,334.00v-2.80M445.52,339.20v-2.80" fill="none" stroke="#3a55a3" stroke-width="1.1"/>
<path d="M289.70,205.20H289.86V208.50H290.40H290.85V210.93H292.20V213.37H293.06V215.80H293.50H293.66V218.10H294.19V220.40H294.79V222.70H295.26V225.00H295.40H295.72V227.10H296.36V229.20H296.90H297.29V231.97H297.55V234.73H298.25V237.50H298.50H298.68V240.27H299.03V243.03H299.29V245.80H299.50H300.13V247.90H301.04V250.00H301.60H302.12V253.00H303.01V256.00H303.70H303.95V258.33H304.40V260.67H305.02V263.00H305.30H305.74V265.48H306.35V267.96H307.52V270.44H308.09V272.92H309.29V275.40H309.60H309.87V277.97H311.26V280.53H312.30V283.10H313.12V285.67H314.13V288.23H314.74V290.80H315.40H316.18V293.53H316.68V296.27H317.89V299.00H318.50H319.05V301.50H321.03V304.00H321.93V306.50H323.00H323.72V308.12H326.01V309.75H327.78V311.38H329.44V313.00H331.00H332.35V315.67H333.39V318.33H335.90V321.00H336.50H337.66V323.10H338.10H339.16V324.07H341.44V325.03H342.47V326.00H345.44V326.97H346.95V327.93H348.61V328.90H349.70H350.62V329.39H352.27V329.87H354.92V330.36H356.07V330.84H358.95V331.33H360.25V331.81H362.68V332.30H363.50H364.56V333.40H366.97V334.50H368.10H399.40V337.60H425.30V343.20H461.70" fill="none" stroke="#e8313a" stroke-width="1.0" stroke-linejoin="miter"/><path d="M297.51,231.97v-2.80M297.97,234.73v-2.80M300.69,247.90v-2.80M303.73,256.00v-2.80M304.67,260.67v-2.80M306.94,267.96v-2.80M331.72,313.00v-2.80M356.16,330.84v-2.80M368.18,334.50v-2.80M379.28,334.50v-2.80" fill="none" stroke="#e8313a" stroke-width="1.1"/>
<path d="M422.90,303.90v-2.80M431.50,303.90v-2.80M435.40,303.90v-2.80M449.80,303.90v-2.80M417.00,303.90v-2.80M426.00,303.90v-2.80" fill="none" stroke="#2fa545" stroke-width="1.1"/>
<path d="M436.30,308.50v-2.80M456.50,308.50v-2.80M403.00,308.50v-2.80M407.00,308.50v-2.80M411.00,308.50v-2.80M414.00,308.50v-2.80" fill="none" stroke="#9b48b3" stroke-width="1.1"/>
<path d="M448.80,339.20v-2.80M460.40,339.20v-2.80M469.00,339.20v-2.80M476.70,339.20v-2.80M421.00,330.30v-2.80M423.00,330.30v-2.80M425.00,330.30v-2.80M433.00,334.00v-2.80" fill="none" stroke="#3a55a3" stroke-width="1.1"/>
<path d="M423.80,337.60v-2.80M432.50,343.20v-2.80M461.30,343.20v-2.80M412.00,337.60v-2.80M413.50,337.60v-2.80" fill="none" stroke="#e8313a" stroke-width="1.1"/>
</svg>
</body></html>
